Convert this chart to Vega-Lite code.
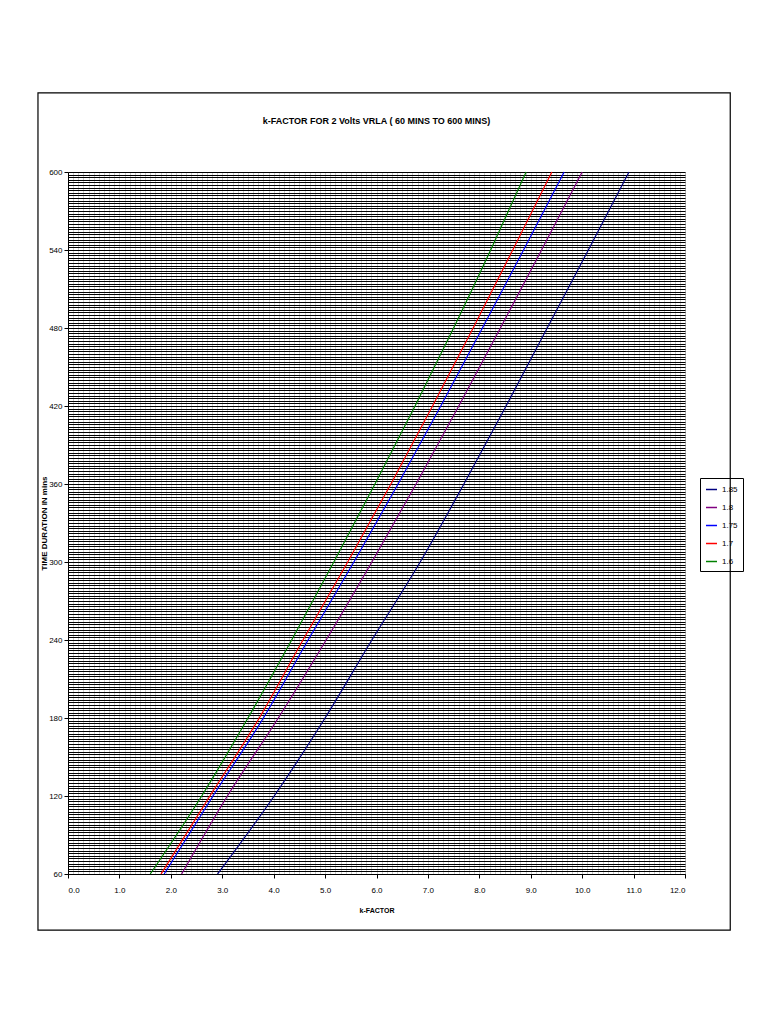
{
  "$schema": "https://vega.github.io/schema/vega-lite/v6.json",
  "autosize": "none",
  "width": 617,
  "height": 702,
  "padding": {"left": 68, "top": 172, "right": 83, "bottom": 150},
  "background": "white",
  "title": {
    "text": "k-FACTOR FOR 2 Volts VRLA ( 60 MINS TO 600 MINS)",
    "fontSize": 9,
    "fontWeight": "bold",
    "font": "Liberation Sans Narrow, Liberation Sans, sans-serif",
    "anchor": "middle",
    "frame": "group",
    "offset": -34,
    "color": "black"
  },
  "config": {
    "view": {"stroke": "#999999", "strokeWidth": 1},
    "font": "Liberation Sans Narrow, Liberation Sans, sans-serif",
    "legend": {
      "orient": "none",
      "legendX": 632,
      "legendY": 306,
      "strokeColor": "black",
      "padding": 5,
      "symbolType": "stroke",
      "symbolSize": 120,
      "symbolStrokeWidth": 1.5,
      "labelFontSize": 8,
      "labelColor": "black",
      "rowPadding": 7,
      "title": null
    }
  },
  "data": {
    "values": [
      {"series": "1.6", "min": 60, "k": 1.60}, {"series": "1.6", "min": 120, "k": 2.60}, {"series": "1.6", "min": 180, "k": 3.50}, {"series": "1.6", "min": 240, "k": 4.35}, {"series": "1.6", "min": 300, "k": 5.17},
      {"series": "1.6", "min": 360, "k": 5.97}, {"series": "1.6", "min": 420, "k": 6.75}, {"series": "1.6", "min": 480, "k": 7.50}, {"series": "1.6", "min": 540, "k": 8.22}, {"series": "1.6", "min": 600, "k": 8.91},
      {"series": "1.7", "min": 60, "k": 1.81}, {"series": "1.7", "min": 120, "k": 2.76}, {"series": "1.7", "min": 180, "k": 3.72}, {"series": "1.7", "min": 240, "k": 4.57}, {"series": "1.7", "min": 300, "k": 5.44},
      {"series": "1.7", "min": 360, "k": 6.28}, {"series": "1.7", "min": 420, "k": 7.09}, {"series": "1.7", "min": 480, "k": 7.88}, {"series": "1.7", "min": 540, "k": 8.65}, {"series": "1.7", "min": 600, "k": 9.41},
      {"series": "1.75", "min": 60, "k": 1.87}, {"series": "1.75", "min": 120, "k": 2.82}, {"series": "1.75", "min": 180, "k": 3.80}, {"series": "1.75", "min": 240, "k": 4.67}, {"series": "1.75", "min": 300, "k": 5.56},
      {"series": "1.75", "min": 360, "k": 6.42}, {"series": "1.75", "min": 420, "k": 7.25}, {"series": "1.75", "min": 480, "k": 8.06}, {"series": "1.75", "min": 540, "k": 8.86}, {"series": "1.75", "min": 600, "k": 9.65},
      {"series": "1.8", "min": 60, "k": 2.21}, {"series": "1.8", "min": 120, "k": 3.10}, {"series": "1.8", "min": 180, "k": 4.09}, {"series": "1.8", "min": 240, "k": 5.02}, {"series": "1.8", "min": 300, "k": 5.91},
      {"series": "1.8", "min": 360, "k": 6.77}, {"series": "1.8", "min": 420, "k": 7.60}, {"series": "1.8", "min": 480, "k": 8.41}, {"series": "1.8", "min": 540, "k": 9.21}, {"series": "1.8", "min": 600, "k": 10.00},
      {"series": "1.85", "min": 60, "k": 2.91}, {"series": "1.85", "min": 120, "k": 4.01}, {"series": "1.85", "min": 180, "k": 5.00}, {"series": "1.85", "min": 240, "k": 5.91}, {"series": "1.85", "min": 300, "k": 6.85},
      {"series": "1.85", "min": 360, "k": 7.70}, {"series": "1.85", "min": 420, "k": 8.52}, {"series": "1.85", "min": 480, "k": 9.32}, {"series": "1.85", "min": 540, "k": 10.12}, {"series": "1.85", "min": 600, "k": 10.91}
    ]
  },
  "layer": [
    {
      "mark": {"type": "line", "strokeWidth": 1.2, "interpolate": "monotone"},
      "encoding": {
        "x": {
          "field": "k", "type": "quantitative",
          "scale": {"domain": [0, 12], "nice": false, "zero": false},
          "axis": {"orient": "top", "tickCount": 120, "grid": true, "gridColor": "#c0c0c0", "gridWidth": 0.8, "labels": false, "ticks": false, "domain": false, "title": null}
        },
        "y": {
          "field": "min", "type": "quantitative",
          "scale": {"domain": [60, 600], "nice": false, "zero": false},
          "axis": {"orient": "right", "tickCount": 270, "grid": true, "gridColor": "black", "gridWidth": 1.1, "labels": false, "ticks": false, "domain": false, "title": null}
        },
        "color": {
          "field": "series", "type": "nominal",
          "scale": {"domain": ["1.85", "1.8", "1.75", "1.7", "1.6"], "range": ["#000080", "#800080", "#0000ff", "#ff0000", "#008000"]},
          "legend": {}
        },
        "order": {"field": "min"}
      }
    },
    {
      "data": {"values": [{}]},
      "mark": {"type": "rect", "fill": null, "stroke": "black", "strokeWidth": 1.2, "clip": false},
      "encoding": {
        "x": {
          "datum": -0.584, "type": "quantitative",
          "axis": {"orient": "bottom", "values": [0,1,2,3,4,5,6,7,8,9,10,11,12], "format": ".1f", "grid": false, "domainColor": "black", "tickColor": "black", "tickSize": 4, "labelFontSize": 8, "labelColor": "black", "labelPadding": 8, "title": "k-FACTOR", "titleFontSize": 7, "titleFontWeight": "bold", "titleColor": "black", "titleY": 36, "titleBaseline": "middle"}
        },
        "x2": {"datum": 12.88},
        "y": {
          "datum": 660.8, "type": "quantitative",
          "axis": {"orient": "left", "values": [60,120,180,240,300,360,420,480,540,600], "grid": false, "domainColor": "black", "tickColor": "black", "tickSize": 4, "labelFontSize": 8, "labelColor": "black", "labelPadding": 2, "title": "TIME DURATION IN mins", "titleFontSize": 8, "titleFontWeight": "bold", "titleColor": "black", "titleX": -24, "titleY": 351, "titleAngle": 270, "titleAlign": "center", "titleBaseline": "middle"}
        },
        "y2": {"datum": 16.9}
      }
    }
  ],
  "resolve": {"axis": {"x": "independent", "y": "independent"}}
}
